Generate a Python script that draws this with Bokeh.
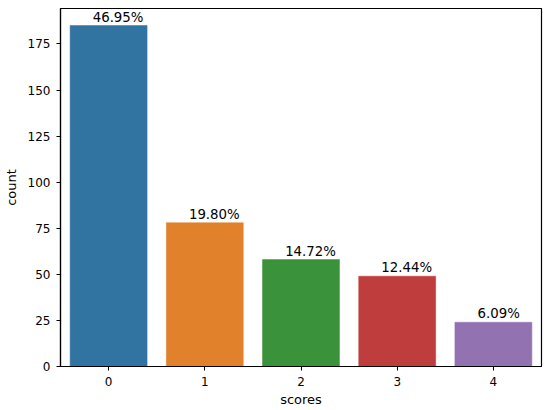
from bokeh.plotting import figure
from bokeh.models import FixedTicker, Range1d, ColumnDataSource
from bokeh.core.properties import value
from bokeh.embed import file_html
from bokeh.resources import INLINE

categories = [0, 1, 2, 3, 4]
counts = [185, 78, 58, 49, 24]
colors = ["#3274a1", "#e1812c", "#3a923a", "#c03d3e", "#9372b2"]
total = sum(counts)
labels = ["%.2f%%" % (100.0 * c / total) for c in counts]
y_ticks = [0, 25, 50, 75, 100, 125, 150, 175]

FONT = "DejaVu Sans"

p = figure(width=550, height=410, output_backend="svg", toolbar_location=None,
           x_range=Range1d(-0.5, 4.5), y_range=Range1d(0, max(counts) * 1.05))
p.min_border_left = 59
p.min_border_right = 9
p.min_border_top = 8
p.min_border_bottom = 44
p.outline_line_color = "black"
p.outline_line_width = 1.2
p.xgrid.visible = False
p.ygrid.visible = False

src = ColumnDataSource(dict(x=categories, top=counts, color=colors,
                            lx=[c - 0.165 for c in categories],
                            label=labels))
p.vbar(x="x", top="top", width=0.8, bottom=0, fill_color="color",
       line_color="color", line_width=0.5, source=src)
p.text(x="lx", y="top", text="label", source=src, text_font=value(FONT),
       text_font_size="13.3px", text_align="left", text_baseline="bottom",
       y_offset=-1, text_color="black")

for ax in (p.xaxis[0], p.yaxis[0]):
    ax.axis_line_color = "black"
    ax.axis_line_width = 1.2
    ax.major_tick_out = 4
    ax.major_tick_in = 0
    ax.minor_tick_line_color = None
    ax.major_tick_line_color = "black"
    ax.major_label_text_font = FONT
    ax.major_label_text_font_size = "12px"
    ax.major_label_text_color = "black"
    ax.axis_label_text_font = FONT
    ax.axis_label_text_font_size = "13px"
    ax.axis_label_text_font_style = "normal"
    ax.axis_label_text_color = "black"

p.xaxis.ticker = FixedTicker(ticks=categories)
p.yaxis.ticker = FixedTicker(ticks=y_ticks)
p.xaxis.axis_label = "scores"
p.yaxis.axis_label = "count"
p.xaxis.major_label_standoff = 6
p.yaxis.major_label_standoff = 6
p.xaxis.axis_label_standoff = 3
p.yaxis.axis_label_standoff = 6

open("out.html", "w").write(file_html(p, INLINE))
